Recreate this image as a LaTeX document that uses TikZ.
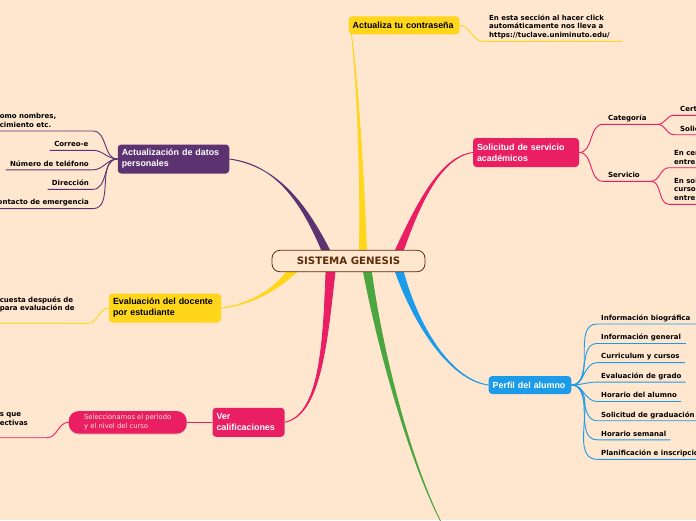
\documentclass[tikz,border=0pt]{standalone}
\usepackage{fontspec}
\setmainfont{Liberation Sans}
\newfontfamily\leaffont{DejaVu Sans}
\usetikzlibrary{positioning, calc, shadows, backgrounds}

\definecolor{paper}{HTML}{FFE6CF}
\definecolor{brownline}{HTML}{5C2E0A}
\definecolor{grape}{HTML}{5C3370}
\definecolor{rose}{HTML}{E91E63}
\definecolor{sun}{HTML}{FFD61A}
\definecolor{sky}{HTML}{1C9BE9}
\definecolor{leaf}{HTML}{4CA640}

% tapered main branch: colour, start, half width, control, control, end, spread at second control
\newcommand{\taper}[7]{
  \filldraw[#1, line width=0.8pt, line join=round] ($(#2)+(-#3,0)$) .. controls ($(#4)+(-0.4*#3,0)$) and ($(#5)-(#7)$) .. (#6)
    .. controls ($(#5)+(#7)$) and ($(#4)+(0.4*#3,0)$) .. ($(#2)+(#3,0)$) -- cycle;
}

\begin{document}
\begin{tikzpicture}[
    x=1pt, y=-1pt,
    topic/.style={rectangle, rounded corners=3.5pt, inner xsep=4pt, inner ysep=0pt, align=left, font=\fontsize{8.9}{11.2}\selectfont\bfseries},
    item/.style={inner xsep=4pt, inner ysep=1.5pt, align=left, text height=6pt, text depth=2pt, font=\leaffont\fontsize{7}{8.8}\selectfont\bfseries},
    itemr/.style={item, anchor=south west},
    iteml/.style={item, anchor=south east},
    two/.style={text depth=10.8pt},
    three/.style={text depth=19.6pt},
    link/.style={line width=0.9pt}
]
\useasboundingbox (0,0) rectangle (696,520);
\clip (0,0) rectangle (696,520);

% Nodes
\node[rectangle, draw=brownline, fill=paper, rounded corners=8pt, line width=0.8pt, minimum width=153pt, minimum height=21.5pt, text=brownline, font=\leaffont\fontsize{10.2}{11}\selectfont\bfseries] (sys) at (348.5,261) {SISTEMA GENESIS};

\node[topic, fill=sun, text width=102.6pt, minimum height=18pt] (clave) at (404,25.3) {\mbox{Actualiza tu contraseña}};
\node[topic, fill=grape, text=white, text width=103.5pt, minimum height=29pt] (datos) at (173.5,159) {Actualización de datos\\personales};
\node[topic, fill=sun, text width=104pt, minimum height=29pt] (eval) at (165,308) {Evaluación del docente\\por estudiante};
\node[topic, fill=rose, text=white, text width=64pt, minimum height=29pt] (ver) at (248.5,422.3) {Ver\\calificaciones};
\node[topic, fill=rose, text=white, text width=98pt, minimum height=29pt] (solic) at (526,152.5) {Solicitud de servicio\\académicos};
\node[topic, fill=sky, text=white, text width=74.6pt, minimum height=18pt] (perfil) at (530,385) {\mbox{Perfil del alumno}};
\node[rectangle, rounded corners=10pt, fill=rose, text=paper, minimum width=118pt, minimum height=22.5pt, inner xsep=14pt, inner ysep=0pt, align=left, drop shadow={shadow xshift=0pt, shadow yshift=-1pt, opacity=0.35}, font=\leaffont\fontsize{6.8}{8.4}\selectfont, left=25.4pt of ver] (periodo) {Seleccionamos el periodo\\y el nivel del curso};

% Items
\node[itemr, three, text width=131pt] (enlace) at (483,41.3) {\hspace{2pt}En esta sección al hacer click\\\hspace{2pt}automáticamente nos lleva a\\\hspace{2pt}https://tuclave.uniminuto.edu/};

\node[iteml, two, text width=89pt] (nombres) at (93,131) {omo nombres,\\cimiento etc.};
\node[iteml, minimum width=43pt, align=right] (correo) at (93,150.3) {Correo-e};
\node[iteml, below=8.1pt of correo.south east, anchor=north east] (fono) {Número de teléfono};
\node[iteml, below=8.1pt of fono.south east, anchor=north east] (direc) {Dirección};
\node[iteml, below=7.9pt of direc.south east, anchor=north east] (emerg) {ontacto de emergencia};

\node[iteml, three, text width=84pt] (encuesta) at (88,323.3) {cuesta después de\\para evaluación de};
\node[iteml, three, text width=43pt] (selec) at (47,437.7) {s que\\ectivas};

\node[itemr] (categ) at (603,124.3) {\hspace{1pt}Categoría\hspace{7pt}};
\node[itemr] (servi) at (603,181.3) {\hspace{1pt}Servicio\hspace{7pt}};
\node[itemr, text width=40pt] (cert) at (674,115.3) {\hspace{2pt}Cert};
\node[itemr, text width=40pt] (soli) at (674,134.7) {\hspace{2pt}Solic};
\node[itemr, two, text width=40pt] (encer) at (669,167.7) {\hspace{1pt}En cer\\\hspace{1pt}entre};
\node[itemr, three, text width=40pt] (ensol) at (669,204.3) {\hspace{1pt}En sol\\\hspace{1pt}cursos\\\hspace{1pt}entre};

\node[itemr] (bio) at (597,324) {Información biográfica\hspace{6pt}};
\node[itemr, below=8.1pt of bio.south west, anchor=north west] (gral) {Información general\hspace{1pt}};
\node[itemr, below=7.7pt of gral.south west, anchor=north west] (curri) {Curriculum y cursos\hspace{1pt}};
\node[itemr, below=8.1pt of curri.south west, anchor=north west] (grado) {Evaluación de grado};
\node[itemr, below=8pt of grado.south west, anchor=north west] (horal) {Horario del alumno};
\node[itemr, below=7.8pt of horal.south west, anchor=north west] (gradu) {Solicitud de graduación\hspace{6pt}};
\node[itemr, below=7.7pt of gradu.south west, anchor=north west] (horse) {Horario semanal};
\node[itemr, below=8.1pt of horse.south west, anchor=north west] (plani) {Planificación e inscripción};

% Branches
\coordinate (sysA) at ([xshift=14.5pt]sys.north);
\coordinate (sysB) at ([xshift=-23pt]sys.north);
\coordinate (sysC) at ([xshift=51pt]sys.north);
\coordinate (sysD) at ([xshift=51pt]sys.south);
\coordinate (sysE) at ([xshift=19pt]sys.south);
\coordinate (sysF) at ([xshift=-18pt]sys.south);
\coordinate (sysG) at ([xshift=-57pt]sys.south);
\coordinate (greenEnd) at (441,522);

\begin{pgfonlayer}{background}
\fill[paper] (0,0) rectangle (696,520);
\taper{sun}{sysA}{3.5pt}{362,170}{358,90}{[xshift=3pt]clave.south west}{0.5,0}
\taper{grape}{sysB}{4pt}{300,195}{272,165}{datos.east}{0,0.6}
\taper{rose}{sysC}{4pt}{418,205}{440,157}{solic.west}{0,0.6}
\taper{sky}{sysD}{4pt}{416,325}{450,380}{perfil.west}{0,-0.6}
\taper{leaf}{sysE}{4pt}{382,360}{412,465}{greenEnd}{0.5,0}
\taper{rose}{sysF}{4.5pt}{325,345}{320,415}{ver.east}{0.4,0.4}
\taper{sun}{sysG}{5pt}{270,295}{245,305}{eval.east}{0,0.6}
\end{pgfonlayer}

% Arrows
\begin{scope}[link]
\draw[sun] (clave.east) to[out=0,in=180] (enlace.south west) -- (enlace.south east);

\draw[grape] (datos.west) to[out=180,in=0] (nombres.south east) -- (nombres.south west);
\draw[grape] (datos.west) to[out=180,in=0] (correo.south east) -- (correo.south west);
\draw[grape] (datos.west) to[out=180,in=0] (fono.south east) -- (fono.south west);
\draw[grape] (datos.west) to[out=180,in=0] (direc.south east) -- (direc.south west);
\draw[grape] (datos.west) to[out=180,in=0] (emerg.south east) -- (emerg.south west);

\draw[sun] (eval.west) to[out=180,in=0] (encuesta.south east) -- (encuesta.south west);

\draw[rose] (ver.west) -- (periodo.east);
\draw[rose] (periodo.west) to[out=180,in=0] (selec.south east) -- (selec.south west);

\draw[rose] (solic.east) to[out=0,in=180] (categ.south west) -- (categ.south east);
\draw[rose] (solic.east) to[out=0,in=180] (servi.south west) -- (servi.south east);
\draw[rose] (categ.south east) to[out=0,in=180] (cert.south west) -- (cert.south east);
\draw[rose] (categ.south east) to[out=0,in=180] (soli.south west) -- (soli.south east);
\draw[rose] (servi.south east) to[out=0,in=180] (encer.south west) -- (encer.south east);
\draw[rose] (servi.south east) to[out=0,in=180] (ensol.south west) -- (ensol.south east);

\draw[sky] (perfil.east) to[out=0,in=180] (bio.south west) -- (bio.south east);
\draw[sky] (perfil.east) to[out=0,in=180] (gral.south west) -- (gral.south east);
\draw[sky] (perfil.east) to[out=0,in=180] (curri.south west) -- (curri.south east);
\draw[sky] (perfil.east) to[out=0,in=180] (grado.south west) -- (grado.south east);
\draw[sky] (perfil.east) to[out=0,in=180] (horal.south west) -- (horal.south east);
\draw[sky] (perfil.east) to[out=0,in=180] (gradu.south west) -- (gradu.south east);
\draw[sky] (perfil.east) to[out=0,in=180] (horse.south west) -- (horse.south east);
\draw[sky] (perfil.east) to[out=0,in=180] (plani.south west) -- (plani.south east);
\end{scope}

\end{tikzpicture}
\end{document}
